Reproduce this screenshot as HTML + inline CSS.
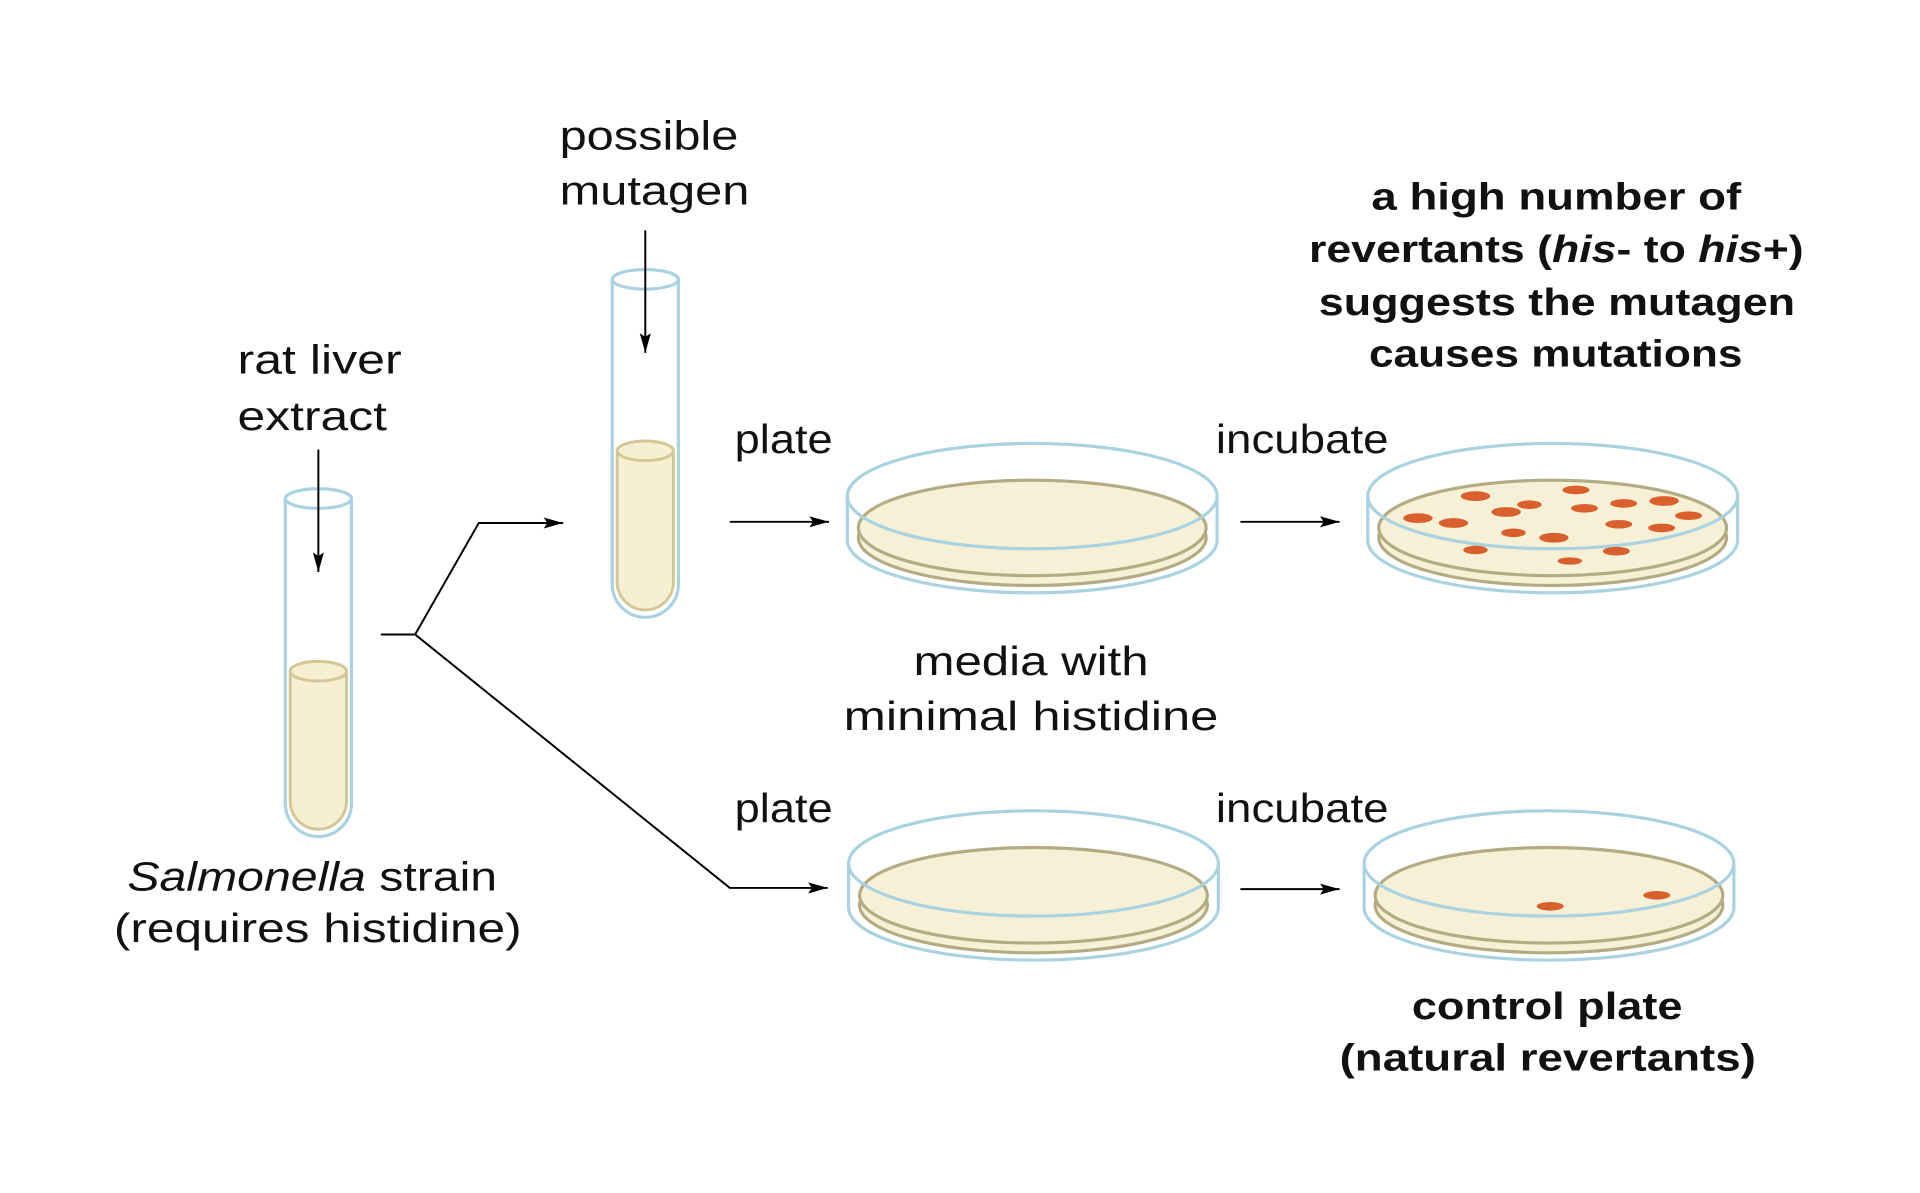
<!DOCTYPE html>
<html><head><meta charset="utf-8"><style>
html,body{margin:0;padding:0;background:#fff;}
svg{display:block;}
text{font-family:"Liberation Sans","DejaVu Sans",sans-serif;fill:#111;}
</style></head><body>
<svg width="1920" height="1193" viewBox="0 0 1568 974" xmlns="http://www.w3.org/2000/svg">
<defs>
<marker id="ah" viewBox="0 0 16 10" refX="16" refY="5" markerWidth="16" markerHeight="10" markerUnits="userSpaceOnUse" orient="auto"><path d="M0,0.5 L16,5 L0,9.5 L3,5 z" fill="#000"/></marker>
<g id="plate">
  <path d="M-151,0 V36 A151,43 0 0 0 151,36 V0" fill="#fff" stroke="#a9d3e0" stroke-width="2.6"/>
  <ellipse cx="0" cy="34" rx="142" ry="39" fill="#f6f1d6" stroke="#b5ab82" stroke-width="2.6"/>
  <ellipse cx="0" cy="26" rx="142" ry="39" fill="#f6f1d6" stroke="#b5ab82" stroke-width="2.6"/>
  <ellipse cx="0" cy="0" rx="151" ry="43" fill="none" stroke="#a9d3e0" stroke-width="2.6"/>
</g>
</defs>
<rect width="1568" height="974" fill="#fff"/>

<!-- tube 1 -->
<path d="M233,407 V656 A27,27 0 0 0 287,656 V407" fill="#fff" stroke="#a9d3e0" stroke-width="2.6"/>
<path d="M237,548 V654 A23,23 0 0 0 283,654 V548" fill="#f6efd2" stroke="#d4c796" stroke-width="2.4"/>
<ellipse cx="260" cy="548" rx="23" ry="8" fill="#f6efd2" stroke="#d4c796" stroke-width="2.4"/>
<ellipse cx="260" cy="407" rx="27" ry="8" fill="none" stroke="#a9d3e0" stroke-width="2.6"/>
<line x1="260" y1="367" x2="260" y2="467" stroke="#000" stroke-width="1.6" marker-end="url(#ah)"/>

<!-- tube 2 -->
<path d="M500,228 V477 A27,27 0 0 0 554,477 V228" fill="#fff" stroke="#a9d3e0" stroke-width="2.6"/>
<path d="M504,368 V475 A23,23 0 0 0 550,475 V368" fill="#f6efd2" stroke="#d4c796" stroke-width="2.4"/>
<ellipse cx="527" cy="368" rx="23" ry="8" fill="#f6efd2" stroke="#d4c796" stroke-width="2.4"/>
<ellipse cx="527" cy="228" rx="27" ry="8" fill="none" stroke="#a9d3e0" stroke-width="2.6"/>
<line x1="527" y1="188" x2="527" y2="288" stroke="#000" stroke-width="1.6" marker-end="url(#ah)"/>

<!-- branch connectors -->
<polyline points="311,518 339,518 391,427 460,427" fill="none" stroke="#000" stroke-width="1.6" marker-end="url(#ah)"/>
<polyline points="339,518 596,725 676,725" fill="none" stroke="#000" stroke-width="1.6" marker-end="url(#ah)"/>
<line x1="596" y1="426" x2="677" y2="426" stroke="#000" stroke-width="1.6" marker-end="url(#ah)"/>
<line x1="1013" y1="426" x2="1094" y2="426" stroke="#000" stroke-width="1.6" marker-end="url(#ah)"/>
<line x1="1013" y1="726" x2="1094" y2="726" stroke="#000" stroke-width="1.6" marker-end="url(#ah)"/>

<!-- plates -->
<use href="#plate" x="843" y="405"/>
<use href="#plate" x="1268" y="405"/>
<use href="#plate" x="844" y="705"/>
<use href="#plate" x="1265" y="705"/>

<!-- colonies -->
<g fill="#d9602c">
<ellipse cx="1205" cy="405" rx="12" ry="4"/>
<ellipse cx="1287" cy="400" rx="11" ry="3.5"/>
<ellipse cx="1249" cy="412" rx="10" ry="3.5"/>
<ellipse cx="1230" cy="418" rx="12" ry="4"/>
<ellipse cx="1294" cy="415" rx="11" ry="3.5"/>
<ellipse cx="1326" cy="411" rx="11" ry="3.5"/>
<ellipse cx="1359" cy="409" rx="12" ry="4"/>
<ellipse cx="1158" cy="423" rx="12" ry="4"/>
<ellipse cx="1187" cy="427" rx="12" ry="4"/>
<ellipse cx="1379" cy="421" rx="11" ry="3.5"/>
<ellipse cx="1236" cy="435" rx="10" ry="3.5"/>
<ellipse cx="1269" cy="439" rx="12" ry="4"/>
<ellipse cx="1322" cy="428" rx="11" ry="3.5"/>
<ellipse cx="1357" cy="431" rx="11" ry="3.5"/>
<ellipse cx="1205" cy="449" rx="10" ry="3.5"/>
<ellipse cx="1320" cy="450" rx="11" ry="3.5"/>
<ellipse cx="1282" cy="458" rx="10" ry="3"/>
<ellipse cx="1266" cy="740" rx="11" ry="3.5"/>
<ellipse cx="1353" cy="731" rx="11" ry="3.5"/>
</g>

<!-- labels -->
<g font-size="33">
<text x="457" y="122" textLength="146" lengthAdjust="spacingAndGlyphs">possible</text>
<text x="457" y="167" textLength="155" lengthAdjust="spacingAndGlyphs">mutagen</text>
<text x="194" y="305" textLength="134" lengthAdjust="spacingAndGlyphs">rat liver</text>
<text x="194" y="351" textLength="122" lengthAdjust="spacingAndGlyphs">extract</text>
<text x="600" y="370" textLength="80" lengthAdjust="spacingAndGlyphs">plate</text>
<text x="993" y="370" textLength="141" lengthAdjust="spacingAndGlyphs">incubate</text>
<text x="600" y="671" textLength="80" lengthAdjust="spacingAndGlyphs">plate</text>
<text x="993" y="671" textLength="141" lengthAdjust="spacingAndGlyphs">incubate</text>
<text x="746" y="551" textLength="192" lengthAdjust="spacingAndGlyphs">media with</text>
<text x="689" y="596" textLength="306" lengthAdjust="spacingAndGlyphs">minimal histidine</text>
<text x="104" y="727" textLength="302" lengthAdjust="spacingAndGlyphs"><tspan font-style="italic">Salmonella</tspan> strain</text>
<text x="93" y="769" textLength="333" lengthAdjust="spacingAndGlyphs">(requires histidine)</text>
</g>
<g font-size="31" font-weight="bold">
<text x="1120" y="171" textLength="302" lengthAdjust="spacingAndGlyphs">a high number of</text>
<text x="1069" y="214" textLength="404" lengthAdjust="spacingAndGlyphs">revertants (<tspan font-style="italic">his</tspan>- to <tspan font-style="italic">his</tspan>+)</text>
<text x="1077" y="257" textLength="389" lengthAdjust="spacingAndGlyphs">suggests the mutagen</text>
<text x="1118" y="299" textLength="305" lengthAdjust="spacingAndGlyphs">causes mutations</text>
<text x="1153" y="832" textLength="221" lengthAdjust="spacingAndGlyphs">control plate</text>
<text x="1094" y="874" textLength="340" lengthAdjust="spacingAndGlyphs">(natural revertants)</text>
</g>
</svg>
</body></html>
